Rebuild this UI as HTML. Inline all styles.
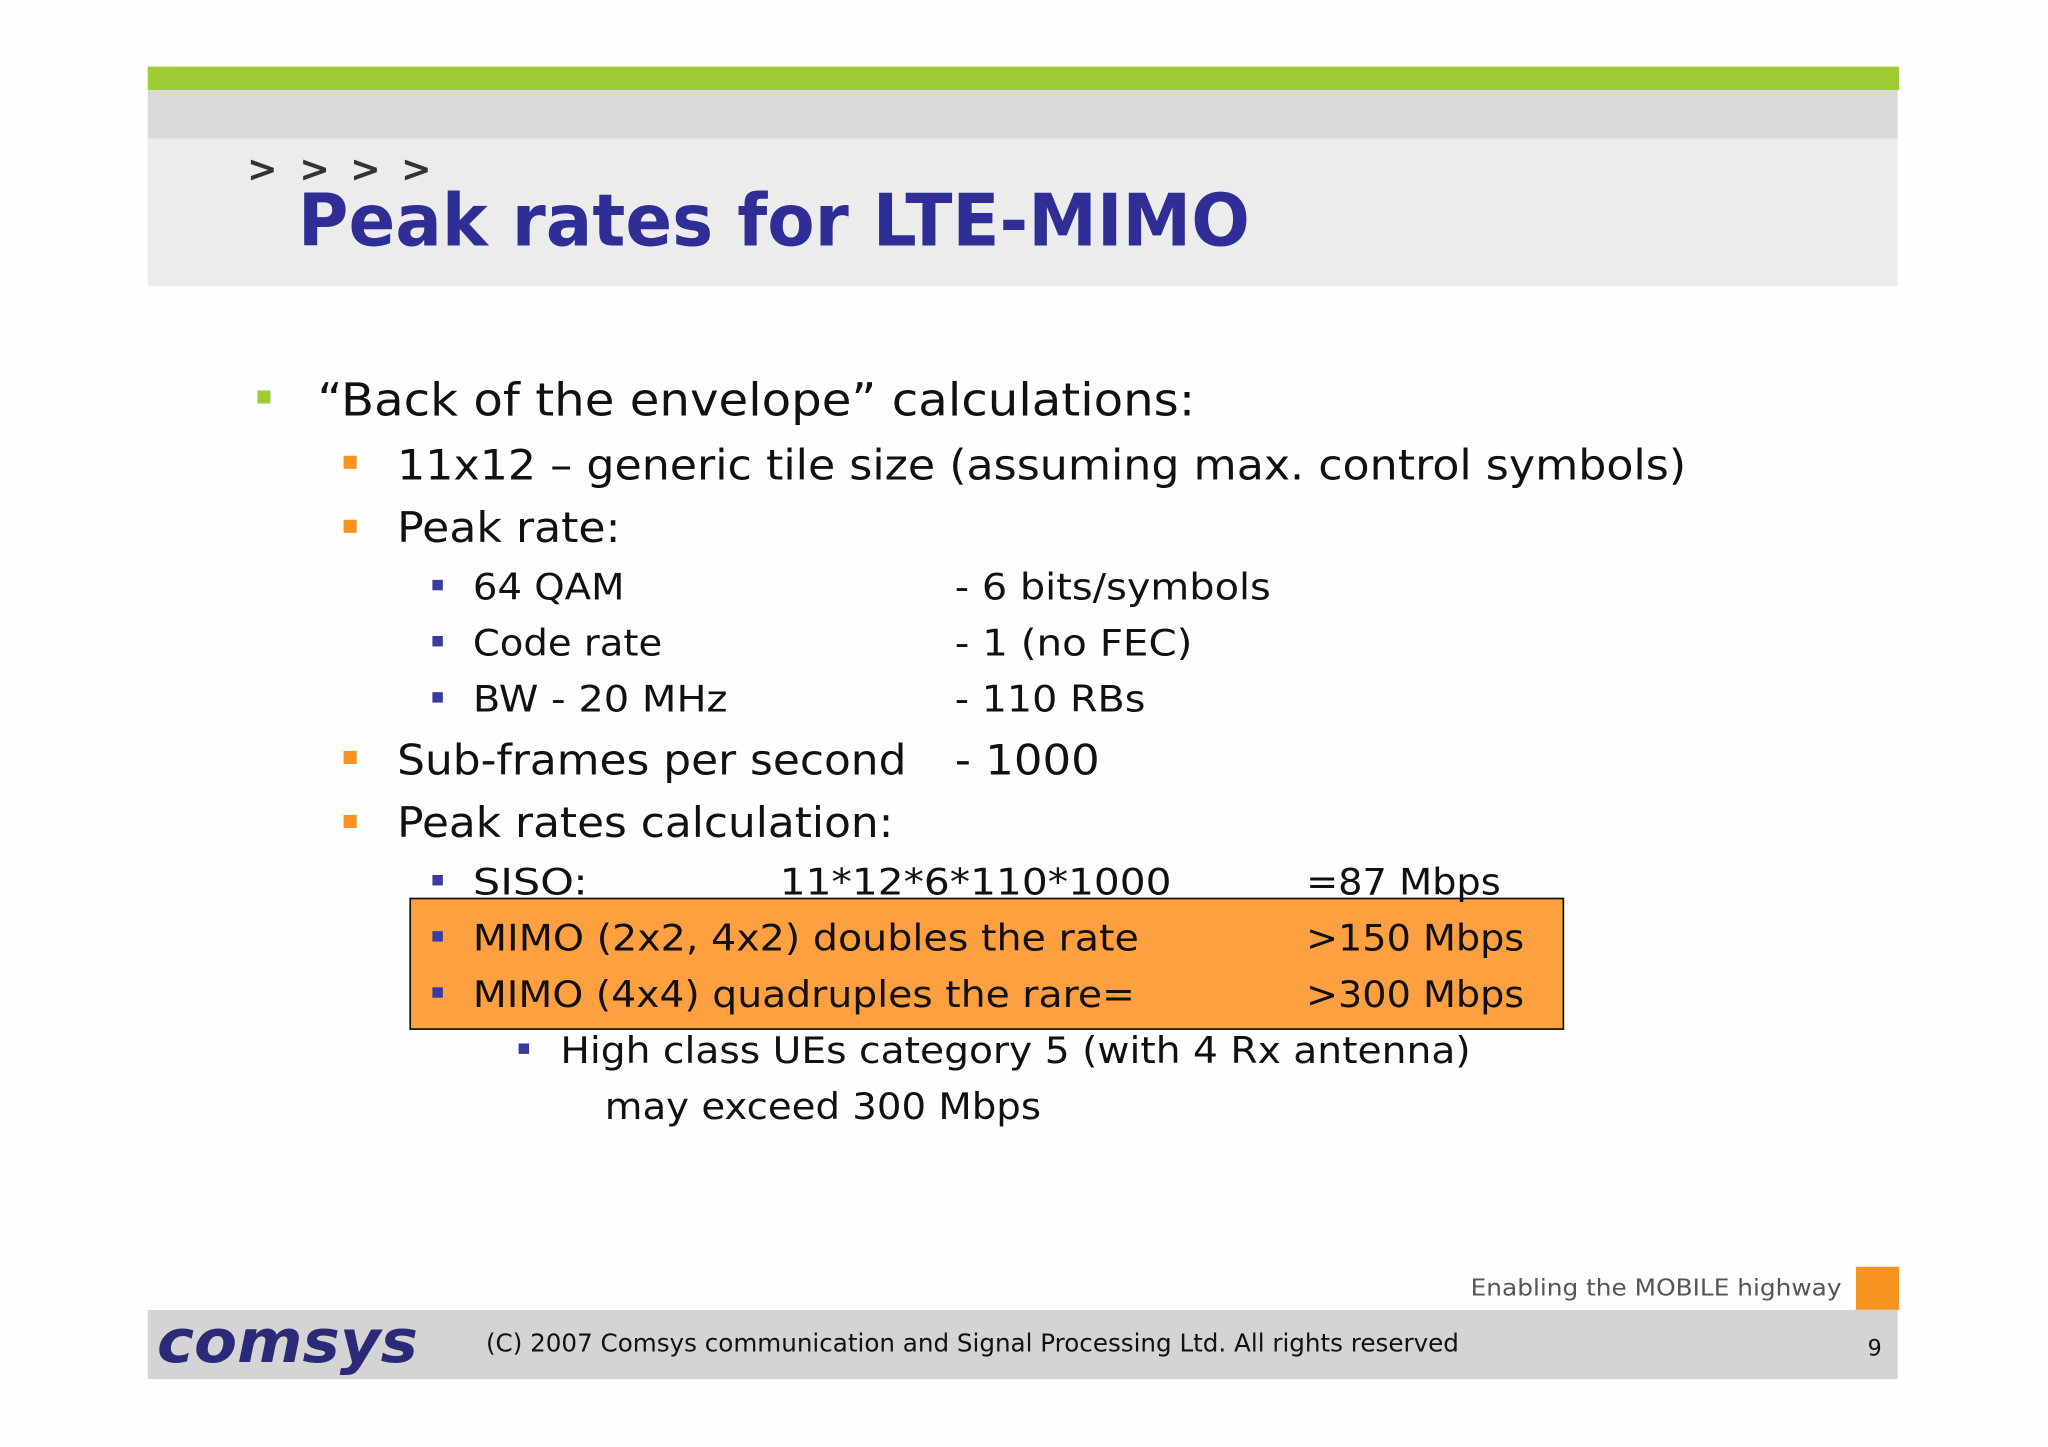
<!DOCTYPE html>
<html><head><meta charset="utf-8"><style>
html,body{margin:0;padding:0;background:#fff}
svg{display:block}
text{font-family:"DejaVu Sans","Liberation Sans",sans-serif}
</style></head><body>
<svg width="2048" height="1447" viewBox="0 0 1568 1108">
<rect x="0" y="0" width="1568" height="1108" fill="#fefefe"/>
<rect x="113" y="51" width="1341" height="18" fill="#9dcc34"/>
<rect x="113" y="69" width="1340" height="37" fill="#d9d9d9"/>
<rect x="113" y="106" width="1340" height="113" fill="#ececec"/>
<g font-size="28" font-weight="bold" fill="#333">
<text x="189" y="139">&gt;</text><text x="229" y="139">&gt;</text><text x="268" y="139">&gt;</text><text x="307" y="139">&gt;</text>
</g>
<text x="228" y="188" font-size="55" font-weight="bold" fill="#2e2e96" textLength="729" lengthAdjust="spacingAndGlyphs">Peak rates for LTE-MIMO</text>

<rect x="197" y="299" width="10" height="10" fill="#9dcc34"/>
<text x="243" y="318" font-size="35" fill="#111" textLength="672" lengthAdjust="spacingAndGlyphs">“Back of the envelope” calculations:</text>

<g fill="#f7931e">
<rect x="263" y="349" width="10" height="10"/>
<rect x="263" y="398" width="10" height="10"/>
<rect x="263" y="575" width="10" height="10"/>
<rect x="263" y="624" width="10" height="10"/>
</g>
<g font-size="32" fill="#111">
<text x="304" y="367" textLength="987" lengthAdjust="spacingAndGlyphs">11x12 – generic tile size (assuming max. control symbols)</text>
<text x="304" y="415" textLength="171" lengthAdjust="spacingAndGlyphs">Peak rate:</text>
<text x="304" y="593" textLength="390" lengthAdjust="spacingAndGlyphs">Sub-frames per second</text>
<text x="731" y="593" textLength="111" lengthAdjust="spacingAndGlyphs">- 1000</text>
<text x="304" y="641" textLength="380" lengthAdjust="spacingAndGlyphs">Peak rates calculation:</text>
</g>

<rect x="314" y="688" width="883" height="100" fill="#ffa040" stroke="#111" stroke-width="1.3"/>

<g fill="#3b3b9e">
<rect x="331" y="444" width="8" height="8"/><rect x="331" y="487" width="8" height="8"/><rect x="331" y="530" width="8" height="8"/>
<rect x="331" y="670" width="8" height="8"/><rect x="331" y="713" width="8" height="8"/><rect x="331" y="756" width="8" height="8"/>
<rect x="397" y="799" width="8" height="8"/>
</g>
<g font-size="28" fill="#111">
<text x="362" y="459" textLength="116" lengthAdjust="spacingAndGlyphs">64 QAM</text>
<text x="731" y="459" textLength="242" lengthAdjust="spacingAndGlyphs">- 6 bits/symbols</text>
<text x="362" y="502" textLength="145" lengthAdjust="spacingAndGlyphs">Code rate</text>
<text x="731" y="502" textLength="182" lengthAdjust="spacingAndGlyphs">- 1 (no FEC)</text>
<text x="362" y="545" textLength="195" lengthAdjust="spacingAndGlyphs">BW - 20 MHz</text>
<text x="731" y="545" textLength="146" lengthAdjust="spacingAndGlyphs">- 110 RBs</text>
<text x="362" y="685" textLength="88" lengthAdjust="spacingAndGlyphs">SISO:</text>
<text x="597" y="685" textLength="300" lengthAdjust="spacingAndGlyphs">11*12*6*110*1000</text>
<text x="1000" y="685" textLength="149" lengthAdjust="spacingAndGlyphs">=87 Mbps</text>
<text x="362" y="728" textLength="510" lengthAdjust="spacingAndGlyphs">MIMO (2x2, 4x2) doubles the rate</text>
<text x="1000" y="728" textLength="167" lengthAdjust="spacingAndGlyphs">&gt;150 Mbps</text>
<text x="362" y="771" textLength="507" lengthAdjust="spacingAndGlyphs">MIMO (4x4) quadruples the rare=</text>
<text x="1000" y="771" textLength="167" lengthAdjust="spacingAndGlyphs">&gt;300 Mbps</text>
<text x="429" y="814" textLength="697" lengthAdjust="spacingAndGlyphs">High class UEs category 5 (with 4 Rx antenna)</text>
<text x="463" y="857" textLength="334" lengthAdjust="spacingAndGlyphs">may exceed 300 Mbps</text>
</g>

<text x="1126" y="992" font-size="18" fill="#555" textLength="284" lengthAdjust="spacingAndGlyphs">Enabling the MOBILE highway</text>
<rect x="1421" y="970" width="33" height="33" fill="#f7931e"/>
<rect x="113" y="1003" width="1340" height="53" fill="#d4d4d4"/>
<text x="120" y="1043" font-size="46" font-weight="bold" font-style="italic" fill="#2a2a78" textLength="200" lengthAdjust="spacingAndGlyphs">comsys</text>
<text x="372" y="1035" font-size="19" fill="#111" textLength="745" lengthAdjust="spacingAndGlyphs">(C) 2007 Comsys communication and Signal Processing Ltd. All rights reserved</text>
<text x="1430" y="1038" font-size="17" fill="#111">9</text>
</svg>
</body></html>
